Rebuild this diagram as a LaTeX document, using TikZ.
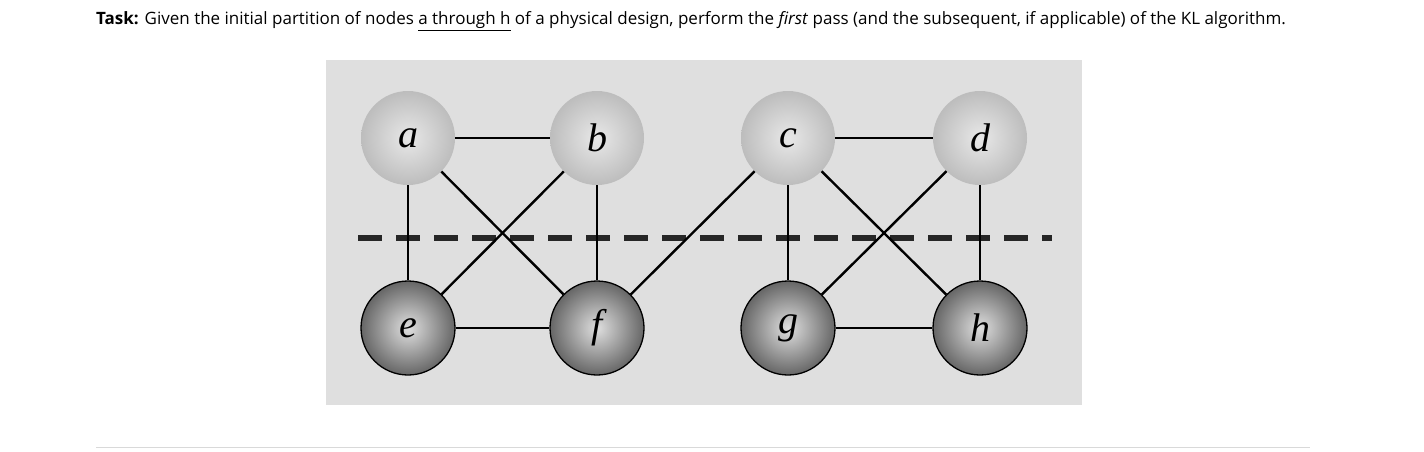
\documentclass[tikz,border=0pt]{standalone}
\usepackage{fontspec}
\setmainfont{Open Sans}
\newfontfamily\serifit{Liberation Serif}
\begin{document}
\begin{tikzpicture}[x=1pt,y=-1pt,
  top/.style={circle,minimum size=94pt,inner sep=0pt,shading=radial,inner color=gray!18,outer color=gray!52,font=\serifit\itshape\fontsize{40}{42}\selectfont},
  bot/.style={circle,minimum size=94pt,inner sep=0pt,draw=black,line width=1.3pt,shading=radial,inner color=gray!25,outer color=gray!80!black,font=\serifit\itshape\fontsize{40}{42}\selectfont},
  edge/.style={line width=2.4pt,black}]
\useasboundingbox (0,0) rectangle (1424,451);
\fill[white] (0,0) rectangle (1424,451);
\node[anchor=west,inner sep=0pt,font=\fontsize{17}{19}\selectfont] (task) at (96,21) {\textbf{Task:} Given the initial partition of nodes \underline{a through h} of a physical design, perform the \textit{first} pass (and the subsequent, if applicable) of the KL algorithm.};
\fill[gray!25] (326,60) rectangle (1082,405);
\draw[gray!30,line width=0.8pt] (96,447) -- (1310,447);
\draw[line width=6pt,black!85,dash pattern=on 24pt off 14pt] (358,238) -- (1052,238);
\node[top] (a) at (408,138) {a};
\node[top] (b) at (597,138) {b};
\node[top] (c) at (788,138) {c};
\node[top] (d) at (980,138) {d};
\node[bot] (e) at (408,328) {e};
\node[bot] (f) at (597,328) {f};
\node[bot] (g) at (788,328) {g};
\node[bot] (h) at (980,328) {h};
\foreach \u/\v in {a/b,a/e,a/f,b/e,b/f,e/f,f/c,c/d,c/g,c/h,d/g,d/h,g/h}
  \draw[edge] (\u) -- (\v);
\end{tikzpicture}
\end{document}
